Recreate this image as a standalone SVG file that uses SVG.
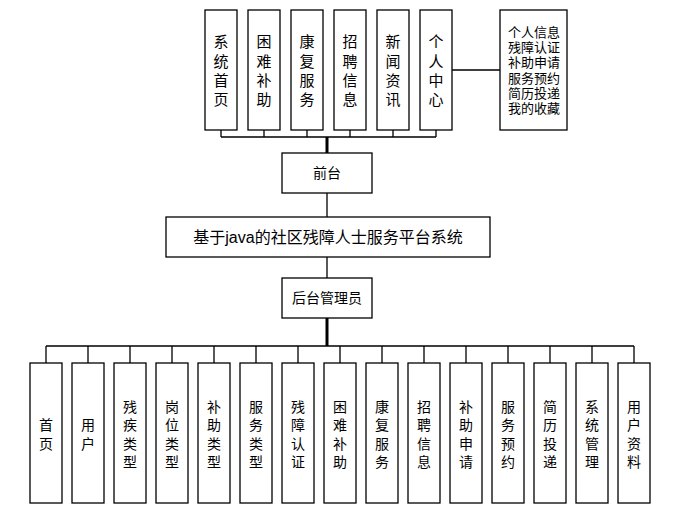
<svg xmlns="http://www.w3.org/2000/svg" width="692" height="512" viewBox="0 0 692 512">
<style>
.b{fill:#fff;stroke:#000;stroke-width:1.3}
.t{font-family:"Liberation Sans","Noto Sans CJK SC",sans-serif;font-size:15px;text-anchor:middle;fill:#000}
.s{font-size:14px}
.r{font-size:13px}
.l{fill:none;stroke:#000;stroke-width:1.3}
.k{fill:none;stroke:#000;stroke-width:3}
</style>
<rect width="692" height="512" fill="#fff"/>
<g id="connectors">
<path class="l" d="M221 130V137M264 130V137M307 130V137M350 130V137M393 130V137M436 130V137M221 137H436M452 70H500M327 193V217M327 257V278"/>
<path class="k" d="M327 137V153M327 318V346"/>
<path class="l" d="M46 346H634M46 346V363M88 346V363M130 346V363M172 346V363M214 346V363M256 346V363M298 346V363M340 346V363M382 346V363M424 346V363M466 346V363M508 346V363M550 346V363M592 346V363M634 346V363"/>
</g>
<g id="top1"><rect class="b" x="205" y="10" width="32" height="120"/><text class="t" x="221"><tspan y="47">系</tspan><tspan x="221" y="67">统</tspan><tspan x="221" y="86">首</tspan><tspan x="221" y="105">页</tspan></text></g>
<g id="top2"><rect class="b" x="248" y="10" width="32" height="120"/><text class="t" x="264"><tspan y="47">困</tspan><tspan x="264" y="67">难</tspan><tspan x="264" y="86">补</tspan><tspan x="264" y="105">助</tspan></text></g>
<g id="top3"><rect class="b" x="291" y="10" width="32" height="120"/><text class="t" x="307"><tspan y="47">康</tspan><tspan x="307" y="67">复</tspan><tspan x="307" y="86">服</tspan><tspan x="307" y="105">务</tspan></text></g>
<g id="top4"><rect class="b" x="334" y="10" width="32" height="120"/><text class="t" x="350"><tspan y="47">招</tspan><tspan x="350" y="67">聘</tspan><tspan x="350" y="86">信</tspan><tspan x="350" y="105">息</tspan></text></g>
<g id="top5"><rect class="b" x="377" y="10" width="32" height="120"/><text class="t" x="393"><tspan y="47">新</tspan><tspan x="393" y="67">闻</tspan><tspan x="393" y="86">资</tspan><tspan x="393" y="105">讯</tspan></text></g>
<g id="top6"><rect class="b" x="420" y="10" width="32" height="120"/><text class="t" x="436"><tspan y="47">个</tspan><tspan x="436" y="67">人</tspan><tspan x="436" y="86">中</tspan><tspan x="436" y="105">心</tspan></text></g>
<g id="personal"><rect class="b" x="500" y="10" width="67" height="120"/><text class="t r" x="534"><tspan y="37">个人信息</tspan><tspan x="534" y="52">残障认证</tspan><tspan x="534" y="67">补助申请</tspan><tspan x="534" y="83">服务预约</tspan><tspan x="534" y="98">简历投递</tspan><tspan x="534" y="113">我的收藏</tspan></text></g>
<g id="front"><rect class="b" x="282" y="153" width="90" height="40"/><text class="t s" x="327" y="178">前台</text></g>
<g id="main"><rect class="b" x="166" y="217" width="324" height="40"/><text class="t" style="font-size:16px" x="328" y="243">基于java的社区残障人士服务平台系统</text></g>
<g id="admin"><rect class="b" x="282" y="278" width="90" height="40"/><text class="t s" x="327" y="303">后台管理员</text></g>
<g id="b1"><rect class="b" x="30" y="363" width="32" height="140"/><text class="t s" x="46"><tspan y="430">首</tspan><tspan x="46" y="449">页</tspan></text></g>
<g id="b2"><rect class="b" x="72" y="363" width="32" height="140"/><text class="t s" x="88"><tspan y="430">用</tspan><tspan x="88" y="449">户</tspan></text></g>
<g id="b3"><rect class="b" x="114" y="363" width="32" height="140"/><text class="t s" x="130"><tspan y="412">残</tspan><tspan x="130" y="430">疾</tspan><tspan x="130" y="449">类</tspan><tspan x="130" y="467">型</tspan></text></g>
<g id="b4"><rect class="b" x="156" y="363" width="32" height="140"/><text class="t s" x="172"><tspan y="412">岗</tspan><tspan x="172" y="430">位</tspan><tspan x="172" y="449">类</tspan><tspan x="172" y="467">型</tspan></text></g>
<g id="b5"><rect class="b" x="198" y="363" width="32" height="140"/><text class="t s" x="214"><tspan y="412">补</tspan><tspan x="214" y="430">助</tspan><tspan x="214" y="449">类</tspan><tspan x="214" y="467">型</tspan></text></g>
<g id="b6"><rect class="b" x="240" y="363" width="32" height="140"/><text class="t s" x="256"><tspan y="412">服</tspan><tspan x="256" y="430">务</tspan><tspan x="256" y="449">类</tspan><tspan x="256" y="467">型</tspan></text></g>
<g id="b7"><rect class="b" x="282" y="363" width="32" height="140"/><text class="t s" x="298"><tspan y="412">残</tspan><tspan x="298" y="430">障</tspan><tspan x="298" y="449">认</tspan><tspan x="298" y="467">证</tspan></text></g>
<g id="b8"><rect class="b" x="324" y="363" width="32" height="140"/><text class="t s" x="340"><tspan y="412">困</tspan><tspan x="340" y="430">难</tspan><tspan x="340" y="449">补</tspan><tspan x="340" y="467">助</tspan></text></g>
<g id="b9"><rect class="b" x="366" y="363" width="32" height="140"/><text class="t s" x="382"><tspan y="412">康</tspan><tspan x="382" y="430">复</tspan><tspan x="382" y="449">服</tspan><tspan x="382" y="467">务</tspan></text></g>
<g id="b10"><rect class="b" x="408" y="363" width="32" height="140"/><text class="t s" x="424"><tspan y="412">招</tspan><tspan x="424" y="430">聘</tspan><tspan x="424" y="449">信</tspan><tspan x="424" y="467">息</tspan></text></g>
<g id="b11"><rect class="b" x="450" y="363" width="32" height="140"/><text class="t s" x="466"><tspan y="412">补</tspan><tspan x="466" y="430">助</tspan><tspan x="466" y="449">申</tspan><tspan x="466" y="467">请</tspan></text></g>
<g id="b12"><rect class="b" x="492" y="363" width="32" height="140"/><text class="t s" x="508"><tspan y="412">服</tspan><tspan x="508" y="430">务</tspan><tspan x="508" y="449">预</tspan><tspan x="508" y="467">约</tspan></text></g>
<g id="b13"><rect class="b" x="534" y="363" width="32" height="140"/><text class="t s" x="550"><tspan y="412">简</tspan><tspan x="550" y="430">历</tspan><tspan x="550" y="449">投</tspan><tspan x="550" y="467">递</tspan></text></g>
<g id="b14"><rect class="b" x="576" y="363" width="32" height="140"/><text class="t s" x="592"><tspan y="412">系</tspan><tspan x="592" y="430">统</tspan><tspan x="592" y="449">管</tspan><tspan x="592" y="467">理</tspan></text></g>
<g id="b15"><rect class="b" x="618" y="363" width="32" height="140"/><text class="t s" x="634"><tspan y="412">用</tspan><tspan x="634" y="430">户</tspan><tspan x="634" y="449">资</tspan><tspan x="634" y="467">料</tspan></text></g>
</svg>
